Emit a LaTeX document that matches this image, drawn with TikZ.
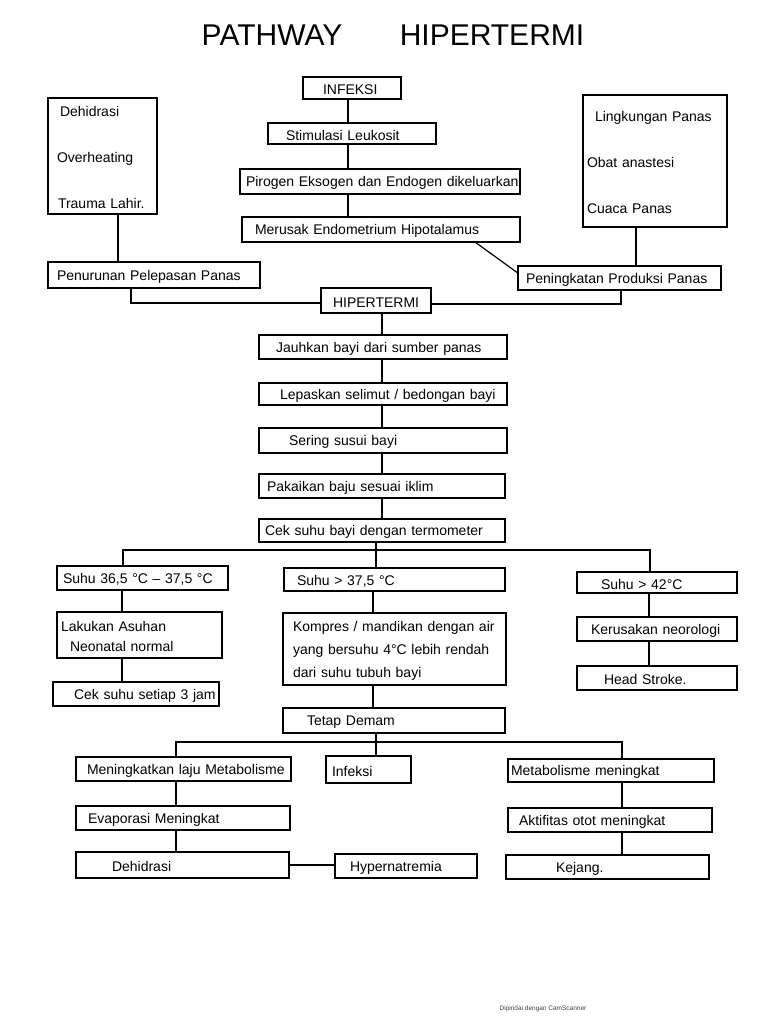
\documentclass[tikz,border=0pt]{standalone}
\usepackage{fontspec}
\setmainfont{Liberation Sans}
\usetikzlibrary{calc}
\tikzset{
  box/.style={draw, line width=1.2pt, rectangle, anchor=north west, align=left,
    inner ysep=0pt, inner xsep=0pt, outer sep=0pt,
    font=\fontsize{14}{16.8}\selectfont},
  link/.style={line width=1.2pt},
  titletext/.style={font=\fontsize{30}{36}\selectfont},
  scantext/.style={font=\fontsize{6.5}{8}\selectfont, text=black!75},
}
% name, left, top, right, bottom, left padding, text
\newcommand\flowbox[7]{%
  \pgfmathsetmacro\fbh{#5-#3}%
  \pgfmathsetmacro\fbr{#4-#2}%
  \node[box, minimum width=\fbr pt, text width=\fbr pt, minimum height=\fbh pt] (#1) at (#2,#3)
    {\rule{0pt}{13.5pt}\hspace*{#6pt}#7};}
\begin{document}
\begin{tikzpicture}[x=1pt,y=-1pt]
\fill[white] (0,0) rectangle (768,1024);
\useasboundingbox (0,0) rectangle (768,1024);

% title
\node[titletext] (t1) at (272,35) {PATHWAY};
\node[titletext] (t2) at (492,35) {HIPERTERMI};

% top part
\flowbox{infeksi}{303}{77}{401}{99}{20}{INFEKSI}
\flowbox{stim}{268}{123}{436}{144}{18}{Stimulasi Leukosit}
\flowbox{piro}{240}{169}{520}{194}{6}{Pirogen Eksogen dan Endogen dikeluarkan}
\flowbox{merusak}{242}{217}{520}{242}{13}{Merusak Endometrium Hipotalamus}
\flowbox{causeL}{48}{98}{157}{214}{12}{Dehidrasi\\[29pt]\hspace*{9pt}Overheating\\[29pt]\hspace*{10pt}Trauma Lahir.}
\flowbox{causeR}{583}{95}{727}{227}{12}{Lingkungan Panas\\[29pt]\hspace*{4pt}Obat anastesi\\[29pt]\hspace*{4pt}Cuaca Panas}
\flowbox{turun}{48}{262}{260}{288}{9}{Penurunan Pelepasan Panas}
\flowbox{naik}{518}{266}{721}{290}{8}{Peningkatan Produksi Panas}
\flowbox{hiper}{321}{288}{431}{313}{12}{HIPERTERMI}

% interventions
\flowbox{jauh}{259}{335}{507}{359}{17}{Jauhkan bayi dari sumber panas}
\flowbox{lepas}{259}{383}{507}{405}{21}{Lepaskan selimut / bedongan bayi}
\flowbox{sering}{259}{428}{507}{453}{30}{Sering susui bayi}
\flowbox{pakai}{259}{474}{505}{498}{8}{Pakaikan baju sesuai iklim}
\flowbox{cek}{259}{519}{505}{542}{6}{Cek suhu bayi dengan termometer}

% temperature branches
\flowbox{suhuA}{57}{566}{228}{590}{6}{Suhu 36,5 °C – 37,5 °C}
\flowbox{suhuB}{284}{568}{505}{591}{13}{Suhu > 37,5 °C}
\flowbox{suhuC}{577}{572}{737}{593}{24}{Suhu > 42°C}
\flowbox{lakukan}{57}{612}{222}{658}{4}{Lakukan Asuhan\\[3pt]\hspace*{13pt}Neonatal normal}
\flowbox{cektiga}{53}{682}{219}{706}{21}{Cek suhu setiap 3 jam}
\flowbox{kompres}{283}{613}{506}{685}{10}{Kompres / mandikan dengan air\\[6pt]\hspace*{10pt}yang bersuhu 4°C lebih rendah\\[6pt]\hspace*{10pt}dari suhu tubuh bayi}
\flowbox{rusak}{577}{617}{737}{641}{14}{Kerusakan neorologi}
\flowbox{head}{577}{666}{737}{690}{27}{Head Stroke.}
\flowbox{tetap}{283}{708}{505}{733}{24}{Tetap Demam}

% consequences
\flowbox{mening}{76}{757}{291}{781}{11}{Meningkatkan laju Metabolisme}
\flowbox{inf2}{326}{756}{411}{783}{6}{Infeksi}
\flowbox{metab}{508}{759}{714}{782}{3}{Metabolisme meningkat}
\flowbox{evap}{76}{806}{290}{830}{12}{Evaporasi Meningkat}
\flowbox{aktif}{508}{808}{712}{832}{11}{Aktifitas otot meningkat}
\flowbox{dehid}{76}{852}{289}{878}{36}{Dehidrasi}
\flowbox{hyper}{335}{854}{477}{878}{15}{Hypernatremia}
\flowbox{kejang}{506}{855}{709}{879}{50}{Kejang.}

% spine coordinates
\coordinate (sA) at (348,0);
\coordinate (sL) at (118,0);
\coordinate (sR) at (636,0);
\coordinate (sD) at (475,0);
\coordinate (sT) at (131,0);
\coordinate (sN) at (621,0);
\coordinate (sB) at (382,0);
\coordinate (sC) at (376,0);
\coordinate (brL) at (123,550);
\coordinate (brR) at (650,550);
\coordinate (s1) at (122,0);
\coordinate (s2) at (373,0);
\coordinate (s3) at (649,0);
\coordinate (s4) at (376,0);
\coordinate (b2L) at (176,742);
\coordinate (b2R) at (622,742);

% top chain
\draw[link] (infeksi.south -| sA) -- (stim.north -| sA);
\draw[link] (stim.south -| sA) -- (piro.north -| sA);
\draw[link] (piro.south -| sA) -- (merusak.north -| sA);
\draw[link] (causeL.south -| sL) -- (turun.north -| sL);
\draw[link] (causeR.south -| sR) -- (naik.north -| sR);
\draw[link] (merusak.south -| sD) -- ($(naik.north west)!0.3!(naik.south west)$);
\draw[link] (turun.south -| sT) |- ($(hiper.north west)!0.6!(hiper.south west)$);
\draw[link] (naik.south -| sN) |- ($(hiper.north east)!0.64!(hiper.south east)$);

% intervention chain
\draw[link] (hiper.south -| sB) -- (jauh.north -| sB);
\draw[link] (jauh.south -| sB) -- (lepas.north -| sB);
\draw[link] (lepas.south -| sB) -- (sering.north -| sB);
\draw[link] (sering.south -| sB) -- (pakai.north -| sB);
\draw[link] (pakai.south -| sB) -- (cek.north -| sB);

% temperature branch
\draw[link] (cek.south -| sC) -- (suhuB.north -| sC);
\draw[link] (suhuA.north -| brL) -- (brL) -- (brR) -- (suhuC.north -| brR);
\draw[link] (suhuA.south -| s1) -- (lakukan.north -| s1);
\draw[link] (lakukan.south -| s1) -- (cektiga.north -| s1);
\draw[link] (suhuB.south -| s2) -- (kompres.north -| s2);
\draw[link] (kompres.south -| s2) -- (tetap.north -| s2);
\draw[link] (suhuC.south -| s3) -- (rusak.north -| s3);
\draw[link] (rusak.south -| s3) -- (head.north -| s3);

% consequences branch
\draw[link] (tetap.south -| s4) -- (inf2.north -| s4);
\draw[link] (mening.north -| b2L) -- (b2L) -- (b2R) -- (metab.north -| b2R);
\draw[link] (mening.south -| b2L) -- (evap.north -| b2L);
\draw[link] (evap.south -| b2L) -- (dehid.north -| b2L);
\draw[link] (metab.south -| b2R) -- (aktif.north -| b2R);
\draw[link] (aktif.south -| b2R) -- (kejang.north -| b2R);
\draw[link] (dehid.east) -- (dehid.east -| hyper.west);

% scanner mark
\node[scantext] (scan) at (543,1009) {Dipindai dengan CamScanner};
\end{tikzpicture}
\end{document}
